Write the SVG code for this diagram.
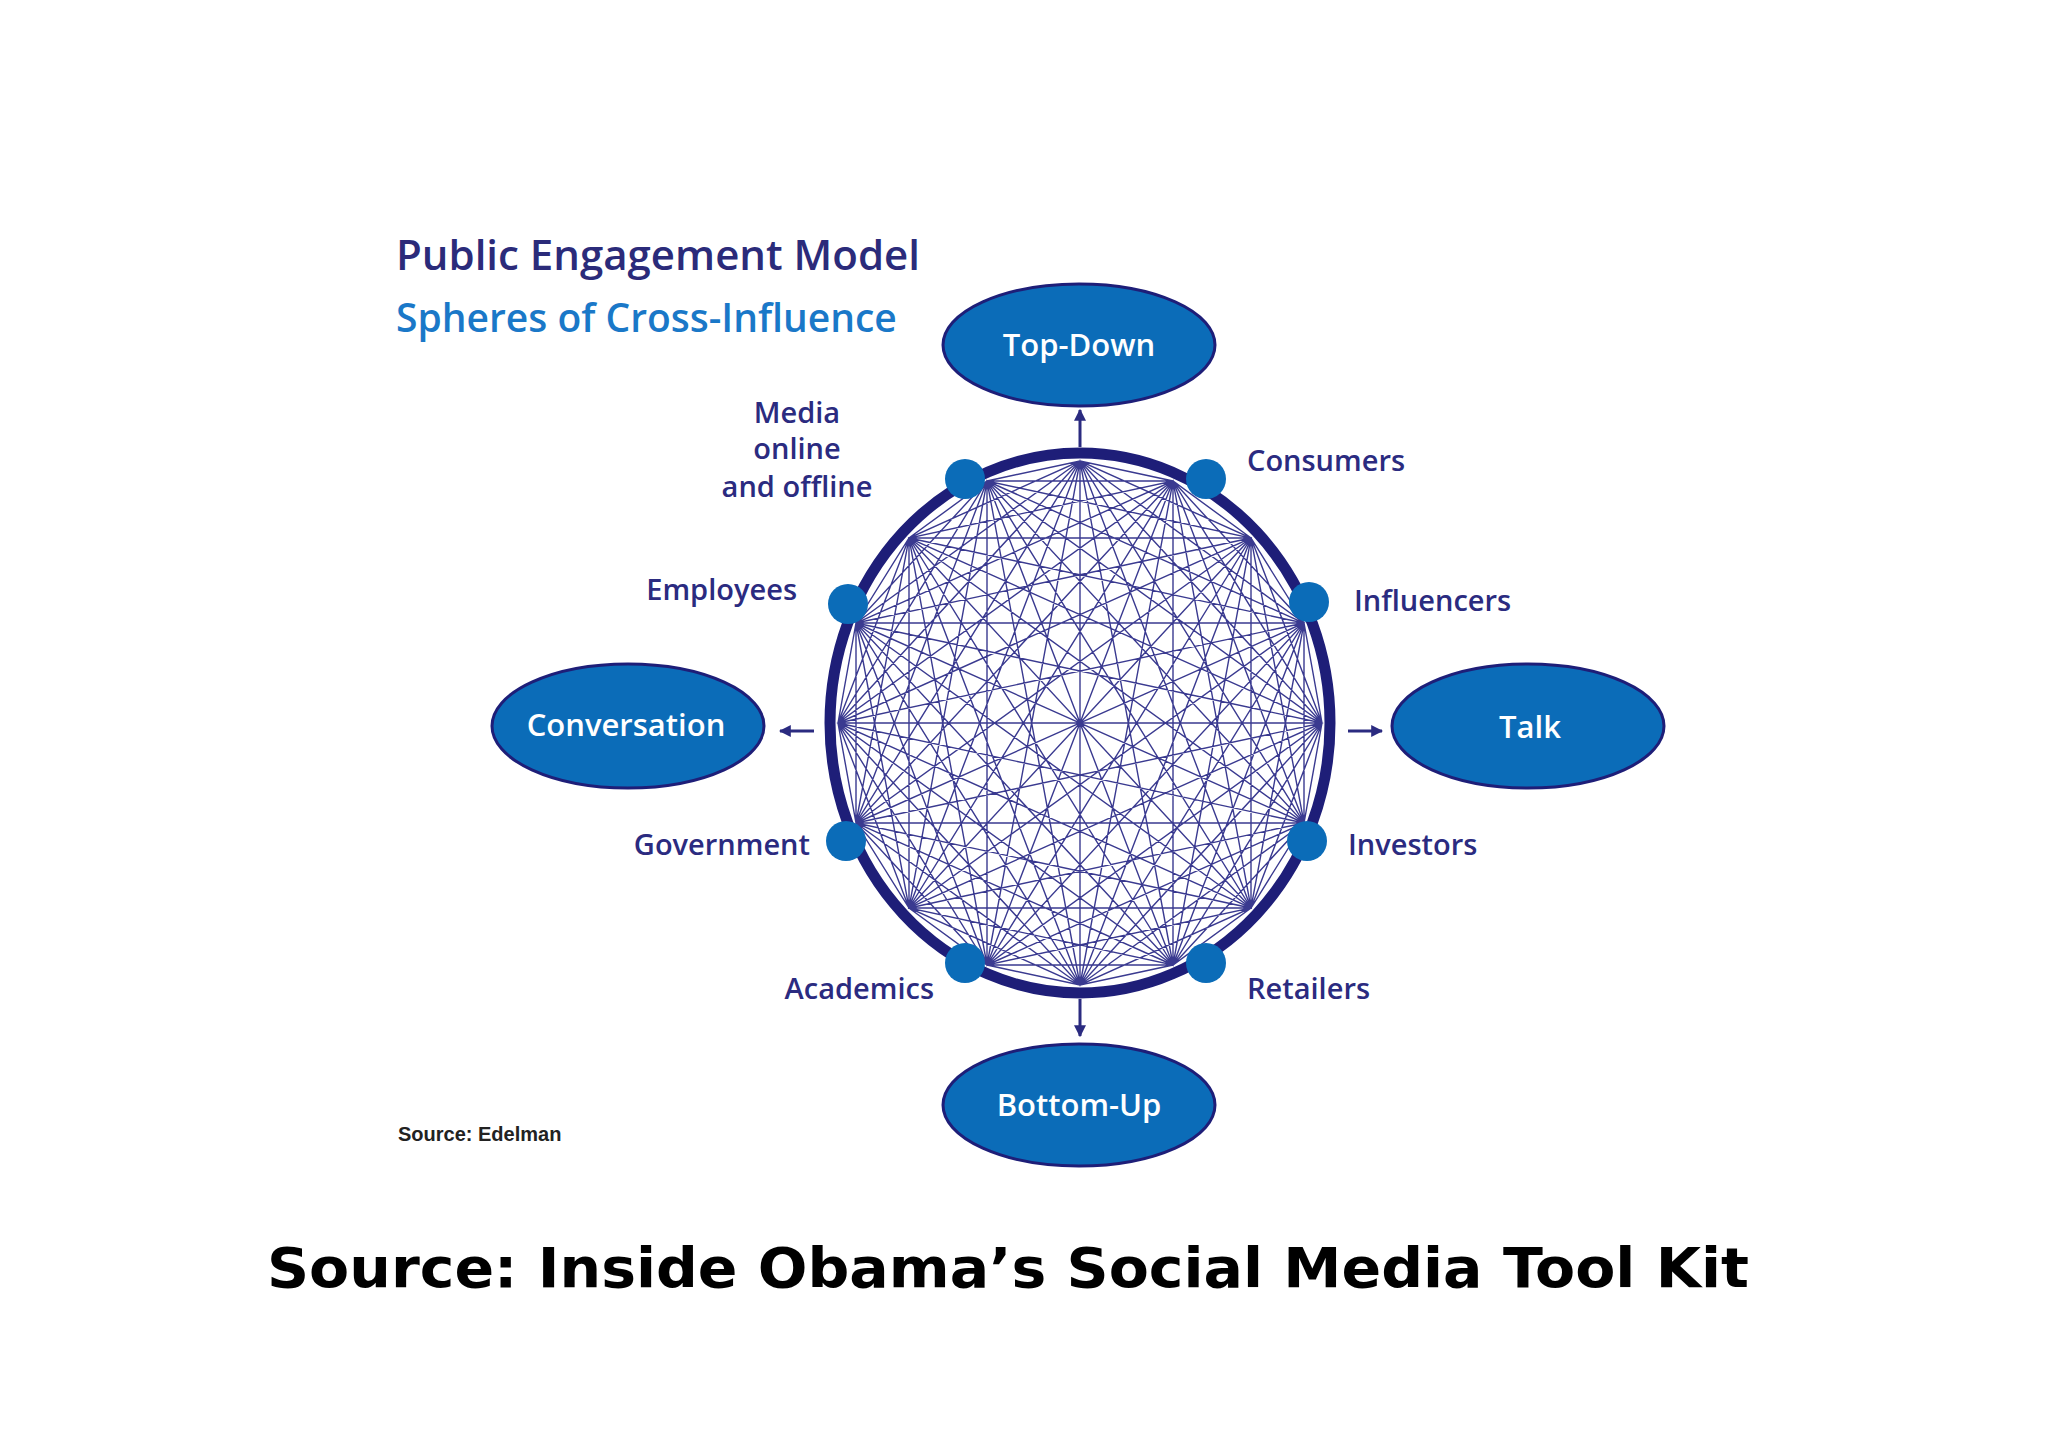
<svg xmlns="http://www.w3.org/2000/svg" width="2048" height="1447" viewBox="0 0 2048 1447">
<defs>
<style>
.lbl{font-family:"Open Sans","Liberation Sans",sans-serif;font-size:29px;font-weight:600;fill:#2b2b80}
.ov{fill:#0b6cb8;stroke:#1e1e78;stroke-width:3}
.ovt{font-family:"Open Sans","Liberation Sans",sans-serif;font-size:31px;font-weight:600;fill:#fff;text-anchor:middle}
.dot{fill:#0b6cb8}
.arr{stroke:#2b2b80;stroke-width:3;fill:none;marker-end:url(#ah)}
</style>
<marker id="ah" viewBox="0 0 10 10" refX="9" refY="5" markerWidth="4" markerHeight="4" orient="auto"><path d="M0,0L10,5L0,10Z" fill="#2b2b80"/></marker>
</defs>
<rect width="2048" height="1447" fill="#fff"/>
<g id="titles">
<text x="396" y="270" font-family="Open Sans, Liberation Sans, sans-serif" font-size="42" font-weight="600" fill="#2b2b7a">Public Engagement Model</text>
<text x="396" y="332" font-family="Open Sans, Liberation Sans, sans-serif" font-size="39" font-weight="600" fill="#1a78c8">Spheres of Cross-Influence</text>
</g>
<g id="connectors">
<path fill="none" stroke="#3a3a90" stroke-width="1.4" d="
M1322,723 L1304,823 L1251,908 L1173,965 L1080,985 L987,965 L909,908 L856,823 L838,723 L856,623 L909,538 L987,481 L1080,461 L1173,481 L1251,538 L1304,623 Z
M1322,723 L1173,965 L909,908 L856,623 L1080,461 L1304,623 L1251,908 L987,965 L838,723 L987,481 L1251,538 L1304,823 L1080,985 L856,823 L909,538 L1173,481 Z
M1322,723 L987,965 L909,538 L1304,623 L1080,985 L856,623 L1251,538 L1173,965 L838,723 L1173,481 L1251,908 L856,823 L1080,461 L1304,823 L909,908 L987,481 Z
M1322,723 L856,823 L1251,538 L987,965 L1080,461 L1173,965 L909,538 L1304,823 L838,723 L1304,623 L909,908 L1173,481 L1080,985 L987,481 L1251,908 L856,623 Z
M1322,723 L1251,908 L1080,985 L909,908 L838,723 L909,538 L1080,461 L1251,538 Z
M1304,823 L1173,965 L987,965 L856,823 L856,623 L987,481 L1173,481 L1304,623 Z
M1322,723 L909,908 L1080,461 L1251,908 L838,723 L1251,538 L1080,985 L909,538 Z
M1304,823 L856,823 L1173,481 L1173,965 L856,623 L1304,623 L987,965 L987,481 Z
M1322,723 L1080,985 L838,723 L1080,461 Z
M1304,823 L987,965 L856,623 L1173,481 Z
M1251,908 L909,908 L909,538 L1251,538 Z
M1173,965 L856,823 L987,481 L1304,623 Z
M1322,723 L838,723 M1304,823 L856,623 M1251,908 L909,538 M1173,965 L987,481 M1080,985 L1080,461 M987,965 L1173,481 M909,908 L1251,538 M856,823 L1304,623"/>
<ellipse cx="1080" cy="723" rx="250" ry="270" fill="none" stroke="#1e1e78" stroke-width="11"/>
<line class="arr" x1="1080" y1="447" x2="1080" y2="410"/>
<line class="arr" x1="1080" y1="999" x2="1080" y2="1036"/>
<line class="arr" x1="814" y1="731" x2="780" y2="731"/>
<line class="arr" x1="1348" y1="731" x2="1382" y2="731"/>
</g>
<g id="dots">
<circle class="dot" cx="965" cy="479" r="20"/>
<circle class="dot" cx="1206" cy="479" r="20"/>
<circle class="dot" cx="1309" cy="602" r="20"/>
<circle class="dot" cx="848" cy="604" r="20"/>
<circle class="dot" cx="846" cy="841" r="20"/>
<circle class="dot" cx="1307" cy="841" r="20"/>
<circle class="dot" cx="965" cy="963" r="20"/>
<circle class="dot" cx="1206" cy="963" r="20"/>
</g>
<g id="labels">
<text class="lbl" x="797" y="423" text-anchor="middle">Media</text>
<text class="lbl" x="797" y="459" text-anchor="middle">online</text>
<text class="lbl" x="797" y="497" text-anchor="middle">and offline</text>
<text class="lbl" x="1247" y="471">Consumers</text>
<text class="lbl" x="1354" y="611">Influencers</text>
<text class="lbl" x="797" y="600" text-anchor="end">Employees</text>
<text class="lbl" x="810" y="855" text-anchor="end">Government</text>
<text class="lbl" x="1348" y="855">Investors</text>
<text class="lbl" x="934" y="999" text-anchor="end">Academics</text>
<text class="lbl" x="1247" y="999">Retailers</text>
</g>
<g id="top-down"><ellipse class="ov" cx="1079" cy="345" rx="136" ry="61"/><text class="ovt" x="1079" y="356">Top-Down</text></g>
<g id="conversation"><ellipse class="ov" cx="628" cy="726" rx="136" ry="62"/><text class="ovt" x="626" y="736">Conversation</text></g>
<g id="talk"><ellipse class="ov" cx="1528" cy="726" rx="136" ry="62"/><text class="ovt" x="1530" y="738">Talk</text></g>
<g id="bottom-up"><ellipse class="ov" cx="1079" cy="1105" rx="136" ry="61"/><text class="ovt" x="1079" y="1116">Bottom-Up</text></g>
<text x="398" y="1141" font-family="Liberation Sans, Arial, sans-serif" font-size="20" font-weight="bold" fill="#222">Source: Edelman</text>
<text x="1008" y="1287" text-anchor="middle" font-family="DejaVu Sans, Verdana, sans-serif" font-size="56" font-weight="bold" fill="#000" textLength="1482" lengthAdjust="spacingAndGlyphs">Source: Inside Obama’s Social Media Tool Kit</text>
</svg>
